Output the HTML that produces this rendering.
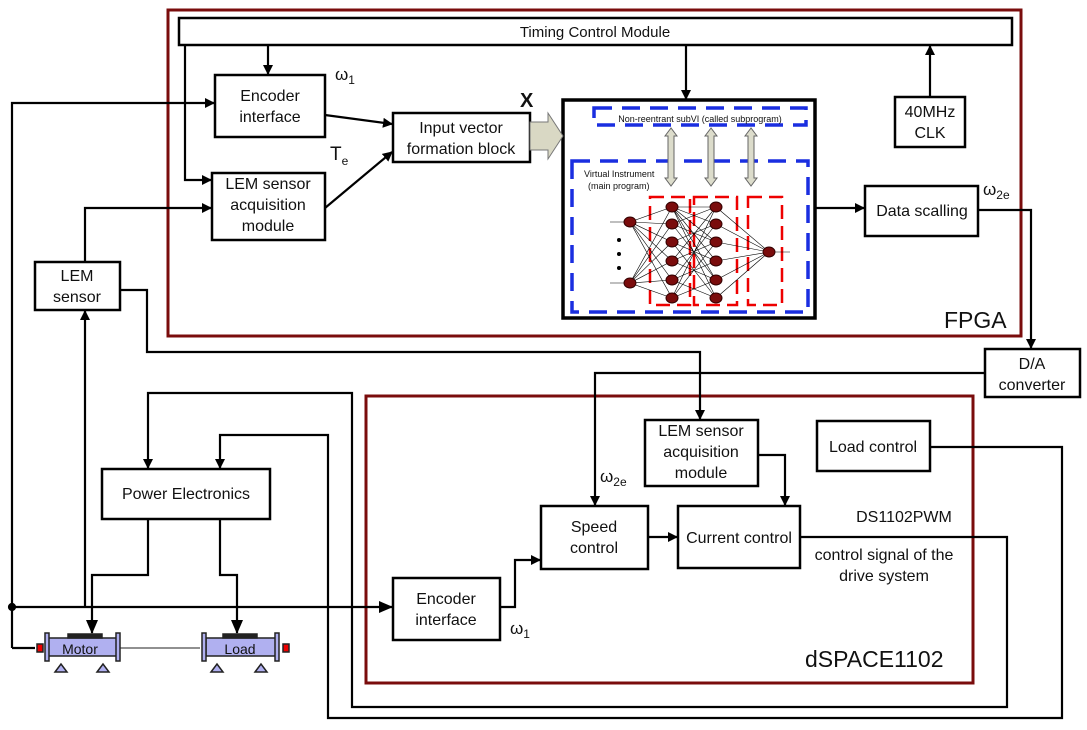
<!DOCTYPE html>
<html><head><meta charset="utf-8"><style>
body{margin:0;background:#fff}
svg text{font-family:"Liberation Sans",sans-serif;fill:#111}
</style></head><body>
<svg width="1087" height="725" viewBox="0 0 1087 725" xmlns="http://www.w3.org/2000/svg">
<defs>
<marker id="a" markerWidth="10" markerHeight="10" refX="9" refY="5" orient="auto" markerUnits="userSpaceOnUse"><path d="M0,0 L10,5 L0,10 z" fill="#000"/></marker>
<marker id="b" markerWidth="14" markerHeight="12" refX="13" refY="6" orient="auto" markerUnits="userSpaceOnUse"><path d="M0,0 L14,6 L0,12 z" fill="#000"/></marker>
</defs>
<rect x="168" y="10" width="853" height="326" fill="none" stroke="#7a0c0c" stroke-width="3"/>
<rect x="366" y="396" width="607" height="287" fill="none" stroke="#7a0c0c" stroke-width="3"/>
<g fill="none" stroke="#000" stroke-width="2.5">
<rect x="179" y="18" width="833" height="27" fill="#fff"/>
<rect x="215" y="75" width="110" height="62"/>
<rect x="212" y="173" width="113" height="67"/>
<rect x="393" y="113" width="137" height="49"/>
<rect x="895" y="97" width="70" height="50"/>
<rect x="865" y="186" width="113" height="50"/>
<rect x="35" y="262" width="85" height="48"/>
<rect x="985" y="349" width="95" height="48"/>
<rect x="102" y="469" width="168" height="50"/>
<rect x="645" y="420" width="113" height="66"/>
<rect x="817" y="421" width="113" height="50"/>
<rect x="541" y="506" width="107" height="63"/>
<rect x="678" y="506" width="122" height="62"/>
<rect x="393" y="578" width="107" height="62"/>
</g>
<rect x="563" y="100" width="252" height="218" fill="none" stroke="#000" stroke-width="3.5"/>
<g fill="none" stroke="#000" stroke-width="2.2">
<path d="M268,45 V74" marker-end="url(#a)"/>
<path d="M185,45 V180 H211" marker-end="url(#a)"/>
<path d="M686,45 V99" marker-end="url(#a)"/>
<path d="M930,97 V46" marker-end="url(#a)"/>
<path d="M325,115 L392,124" marker-end="url(#a)"/>
<path d="M325,208 L392,152" marker-end="url(#a)"/>
<path d="M815,208 H864" marker-end="url(#a)"/>
<path d="M978,210 H1031 V348" marker-end="url(#a)"/>
<path d="M12,648 V103 H214" marker-end="url(#a)"/>
<path d="M12,648 H35"/>
<path d="M12,607 H392" marker-end="url(#b)"/>
<circle cx="12" cy="607" r="3" fill="#000"/>
<path d="M85,607 V311" marker-end="url(#a)"/>
<path d="M85,262 V208 H211" marker-end="url(#a)"/>
<path d="M120,290 H147 V352 H700 V419" marker-end="url(#a)"/>
<path d="M985,373 H595 V505" marker-end="url(#a)"/>
<path d="M500,607 H515 V560 H540" marker-end="url(#a)"/>
<path d="M648,537 H677" marker-end="url(#a)"/>
<path d="M758,455 H785 V505" marker-end="url(#a)"/>
<path d="M800,537 H1007 V707 H352 V393 H148 V468" marker-end="url(#a)"/>
<path d="M930,447 H1062 V718 H328 V435 H220 V468" marker-end="url(#a)"/>
<path d="M148,519 V575 H92 V633" marker-end="url(#b)"/>
<path d="M220,519 V575 H237 V633" marker-end="url(#b)"/>
</g>
<path d="M530,122 H548 V113 L563,136 L548,159 V150 H530 z" fill="#d9d8c4" stroke="#777" stroke-width="1"/>
<rect x="594" y="108" width="212" height="17" fill="none" stroke="#1a2ee0" stroke-width="3.5" stroke-dasharray="18,10"/>
<rect x="572" y="161" width="236" height="151" fill="none" stroke="#1a2ee0" stroke-width="3.5" stroke-dasharray="18,10"/>
<g fill="none" stroke="#e00" stroke-width="2.5" stroke-dasharray="14,7">
<rect x="650" y="197" width="40" height="108"/>
<rect x="694" y="197" width="43" height="108"/>
<rect x="748" y="197" width="34" height="108"/>
</g>
<g fill="#dcdccb" stroke="#666" stroke-width="1">
<path d="M671,128 l-6,8 h3 v42 h-3 l6,8 l6,-8 h-3 v-42 h3 z"/>
<path d="M711,128 l-6,8 h3 v42 h-3 l6,8 l6,-8 h-3 v-42 h3 z"/>
<path d="M751,128 l-6,8 h3 v42 h-3 l6,8 l6,-8 h-3 v-42 h3 z"/>
</g>
<g stroke="#000" stroke-width="0.6">
<path d="M630,222 L672,207 M630,222 L672,224 M630,222 L672,242 M630,222 L672,261 M630,222 L672,280 M630,222 L672,298 M630,283 L672,207 M630,283 L672,224 M630,283 L672,242 M630,283 L672,261 M630,283 L672,280 M630,283 L672,298"/>
<path d="M672,207 L716,207 M672,207 L716,224 M672,207 L716,242 M672,207 L716,261 M672,207 L716,280 M672,207 L716,298 M672,224 L716,207 M672,224 L716,242 M672,224 L716,280 M672,242 L716,224 M672,242 L716,261 M672,242 L716,298 M672,261 L716,207 M672,261 L716,242 M672,261 L716,280 M672,280 L716,224 M672,280 L716,261 M672,280 L716,298 M672,298 L716,207 M672,298 L716,242 M672,298 L716,280"/>
<path d="M716,207 L769,252 M716,224 L769,252 M716,242 L769,252 M716,261 L769,252 M716,280 L769,252 M716,298 L769,252 M610,222 H630 M610,283 H630 M769,252 H790"/>
</g>
<g fill="#7a0c0c" stroke="#300">
<ellipse cx="630" cy="222" rx="6" ry="5"/><ellipse cx="630" cy="283" rx="6" ry="5"/>
<ellipse cx="672" cy="207" rx="6" ry="5"/><ellipse cx="672" cy="224" rx="6" ry="5"/><ellipse cx="672" cy="242" rx="6" ry="5"/><ellipse cx="672" cy="261" rx="6" ry="5"/><ellipse cx="672" cy="280" rx="6" ry="5"/><ellipse cx="672" cy="298" rx="6" ry="5"/>
<ellipse cx="716" cy="207" rx="6" ry="5"/><ellipse cx="716" cy="224" rx="6" ry="5"/><ellipse cx="716" cy="242" rx="6" ry="5"/><ellipse cx="716" cy="261" rx="6" ry="5"/><ellipse cx="716" cy="280" rx="6" ry="5"/><ellipse cx="716" cy="298" rx="6" ry="5"/>
<ellipse cx="769" cy="252" rx="6" ry="5"/>
</g>
<circle cx="619" cy="240" r="2"/><circle cx="619" cy="254" r="2"/><circle cx="619" cy="268" r="2"/>
<g stroke="#222" stroke-width="1.5">
<path d="M120,648 H200" stroke-width="1"/>
<rect x="47" y="638" width="70" height="18" fill="#b0b0f0"/>
<rect x="45" y="633" width="4" height="28" fill="#b0b0f0"/><rect x="116" y="633" width="4" height="28" fill="#b0b0f0"/>
<rect x="68" y="634" width="34" height="4" fill="#222"/>
<rect x="37" y="644" width="6" height="8" fill="#e00"/>
<path d="M55,672 l6,-8 l6,8 z M97,672 l6,-8 l6,8 z" fill="#b0b0f0"/>
<rect x="206" y="638" width="70" height="18" fill="#b0b0f0"/>
<rect x="202" y="633" width="4" height="28" fill="#b0b0f0"/><rect x="275" y="633" width="4" height="28" fill="#b0b0f0"/>
<rect x="223" y="634" width="34" height="4" fill="#222"/>
<rect x="283" y="644" width="6" height="8" fill="#e00"/>
<path d="M211,672 l6,-8 l6,8 z M255,672 l6,-8 l6,8 z" fill="#b0b0f0"/>
</g>
<g font-size="16" text-anchor="middle">
<text x="595" y="37" font-size="15">Timing Control Module</text>
<text x="270" y="101">Encoder</text><text x="270" y="122">interface</text>
<text x="268" y="189">LEM sensor</text><text x="268" y="210">acquisition</text><text x="268" y="231">module</text>
<text x="461" y="133">Input vector</text><text x="461" y="154">formation block</text>
<text x="930" y="117">40MHz</text><text x="930" y="138">CLK</text>
<text x="922" y="216">Data scalling</text>
<text x="77" y="281">LEM</text><text x="77" y="302">sensor</text>
<text x="1032" y="369">D/A</text><text x="1032" y="390">converter</text>
<text x="186" y="499">Power Electronics</text>
<text x="701" y="436">LEM sensor</text><text x="701" y="457">acquisition</text><text x="701" y="478">module</text>
<text x="873" y="452">Load control</text>
<text x="594" y="532">Speed</text><text x="594" y="553">control</text>
<text x="739" y="543">Current control</text>
<text x="446" y="604">Encoder</text><text x="446" y="625">interface</text>
<text x="904" y="522">DS1102PWM</text>
<text x="884" y="560">control signal of the</text><text x="884" y="581">drive system</text>
<text x="80" y="654" font-size="14">Motor</text><text x="240" y="654" font-size="14">Load</text>
<text x="700" y="122" font-size="9">Non-reentrant subVI (called subprogram)</text>
</g>
<text x="584" y="177" font-size="9">Virtual Instrument</text><text x="588" y="189" font-size="9">(main program)</text>
<text x="335" y="80" font-size="17">ω<tspan font-size="12" dy="4">1</tspan></text>
<text x="330" y="160" font-size="19">T<tspan font-size="12" dy="5">e</tspan></text>
<text x="520" y="107" font-size="20" font-weight="bold">X</text>
<text x="983" y="195" font-size="17">ω<tspan font-size="12" dy="4">2e</tspan></text>
<text x="600" y="482" font-size="17">ω<tspan font-size="12" dy="4">2e</tspan></text>
<text x="510" y="634" font-size="17">ω<tspan font-size="12" dy="4">1</tspan></text>
<text x="944" y="328" font-size="23">FPGA</text>
<text x="805" y="667" font-size="23">dSPACE1102</text>
</svg>
</body></html>
